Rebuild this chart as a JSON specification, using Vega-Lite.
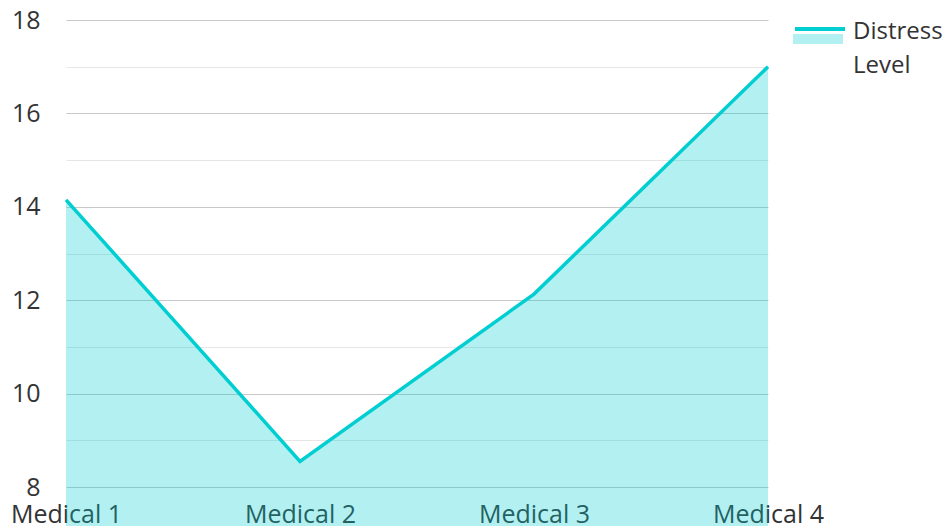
{
  "$schema": "https://vega.github.io/schema/vega-lite/v6.json",
  "width": 702,
  "height": 467,
  "autosize": {"type": "none"},
  "padding": {"left": 66, "top": 20, "right": 181, "bottom": 39},
  "config": {"view": {"stroke": null}, "font": "Open Sans"},
  "data": {
    "values": [
      {"category": "Medical 1", "value": 14.15},
      {"category": "Medical 2", "value": 8.55},
      {"category": "Medical 3", "value": 12.13},
      {"category": "Medical 4", "value": 17.0}
    ]
  },
  "encoding": {
    "x": {
      "field": "category",
      "type": "ordinal",
      "sort": null,
      "scale": {"type": "point", "padding": 0},
      "axis": {
        "title": null,
        "labelAngle": 0,
        "domain": false,
        "ticks": false,
        "tickSize": 0,
        "grid": false,
        "labelFontSize": 25,
        "labelColor": "#333333",
        "labelPadding": 15,
        "labelOverlap": false
      }
    },
    "y": {
      "field": "value",
      "type": "quantitative",
      "scale": {"domain": [8, 18], "nice": false, "zero": false},
      "axis": {
        "title": null,
        "values": [8, 9, 10, 11, 12, 13, 14, 15, 16, 17, 18],
        "domain": false,
        "ticks": false,
        "tickSize": 0,
        "labelExpr": "datum.value % 2 == 0 ? datum.label : ''",
        "gridColor": {"condition": {"test": "datum.value % 2 == 1", "value": "#e6e6e6"}, "value": "#c8c8c8"},
        "labelFontSize": 25,
        "labelColor": "#333333",
        "labelPadding": 26
      }
    }
  },
  "layer": [
    {
      "mark": {"type": "area", "fillOpacity": 0.3},
      "encoding": {
        "fill": {
          "datum": "Distress Level",
          "scale": {"range": ["#00CED1"]},
          "legend": {
            "orient": "none",
            "legendX": 727,
            "legendY": -6,
            "title": null,
            "padding": 0,
            "symbolType": "M-1,-0.2H1V0.2H-1Z",
            "symbolSize": 2500,
            "symbolOpacity": 0.3,
            "symbolStrokeWidth": 0,
            "labelFontSize": 24,
            "labelColor": "#333333",
            "labelExpr": "split(datum.label, ' ')",
            "labelBaseline": "alphabetic",
            "labelOffset": 10,
            "labelLimit": 200,
            "encode": {"labels": {"update": {"lineHeight": {"value": 34}}}}
          }
        }
      }
    },
    {
      "mark": {"type": "line", "strokeWidth": 3.5},
      "encoding": {
        "stroke": {
          "datum": "Distress Level line",
          "scale": {"range": ["#00CED1"]},
          "legend": {
            "orient": "none",
            "legendX": 727,
            "legendY": -18,
            "title": null,
            "padding": 0,
            "symbolType": "stroke",
            "symbolSize": 2500,
            "symbolStrokeWidth": 4,
            "labelFontSize": 24,
            "labelExpr": "''",
            "labelOffset": 10
          }
        }
      }
    }
  ]
}
